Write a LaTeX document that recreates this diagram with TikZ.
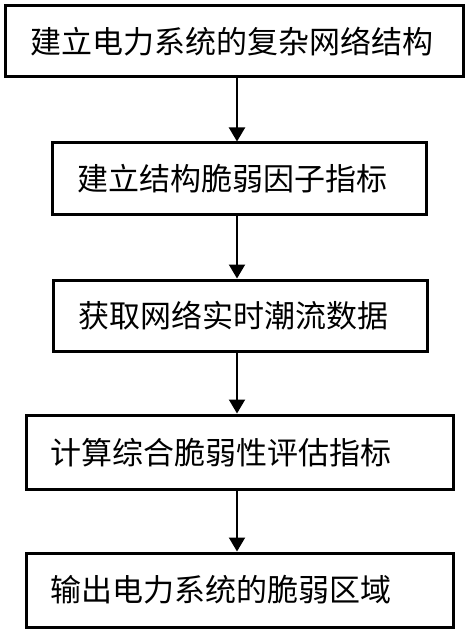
\documentclass[tikz,border=0pt]{standalone}
\usepackage{fontspec}
\newfontfamily\cjk{Noto Sans CJK SC}
\usetikzlibrary{arrows.meta}
\begin{document}
\begin{tikzpicture}[x=1pt,y=-1pt,
  stepbox/.style={draw=black, line width=3pt, rectangle, inner sep=0pt},
  steptext/.style={anchor=west, inner sep=0pt, font=\cjk\fontsize{31}{31}\selectfont},
  flow/.style={draw=black, line width=2pt, -{Triangle[width=16pt,length=14pt]}}]
\useasboundingbox (0,0) rectangle (474,631);
\node[stepbox, minimum width=458pt, minimum height=71pt] (b1) at (234,41.5) {};
\node[stepbox, minimum width=374pt, minimum height=71pt] (b2) at (239,178.5) {};
\node[stepbox, minimum width=374pt, minimum height=71pt] (b3) at (240,315.5) {};
\node[stepbox, minimum width=427pt, minimum height=74pt] (b4) at (239.5,452) {};
\node[stepbox, minimum width=427pt, minimum height=74pt] (b5) at (239.5,590) {};
\node[steptext] (t1) at (30,42) {建立电力系统的复杂网络结构};
\node[steptext] (t2) at (77,179) {建立结构脆弱因子指标};
\node[steptext] (t3) at (78,316) {获取网络实时潮流数据};
\node[steptext] (t4) at (50,453) {计算综合脆弱性评估指标};
\node[steptext] (t5) at (50,590) {输出电力系统的脆弱区域};
\draw[flow] (b1.south -| 237,0) -- (b2.north -| 237,0);
\draw[flow] (b2.south -| 237,0) -- (b3.north -| 237,0);
\draw[flow] (b3.south -| 237,0) -- (b4.north -| 237,0);
\draw[flow] (b4.south -| 237,0) -- (b5.north -| 237,0);
\end{tikzpicture}
\end{document}
